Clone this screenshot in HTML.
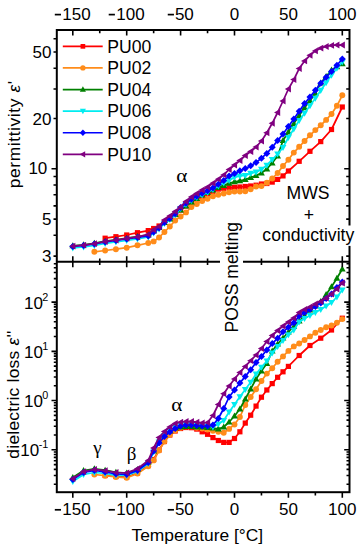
<!DOCTYPE html>
<html><head><meta charset="utf-8"><style>html,body{margin:0;padding:0;background:#fff;overflow:hidden}svg{display:block}</style></head>
<body><svg width="363" height="550" viewBox="0 0 363 550">
<rect width="363" height="550" fill="#fff"/>
<defs><clipPath id="cu"><rect x="56.8" y="30.0" width="292.7" height="231.7"/></clipPath><clipPath id="cl"><rect x="56.8" y="261.7" width="292.7" height="230.5"/></clipPath></defs>
<g clip-path="url(#cu)">
<path d="M105.14 238.20L115.92 236.70L126.70 235.00L137.48 232.70L148.26 230.60L153.65 228.50L159.04 226.00L164.43 222.50L169.82 218.50L175.21 214.50L180.60 210.00L185.99 206.00L191.38 202.00L196.77 199.00L202.16 196.50L207.55 194.00L212.94 191.60L218.33 189.10L223.72 188.30L229.11 187.80L234.50 187.30L239.89 187.00L245.28 186.50L250.67 186.00L256.06 185.20L261.45 184.00L266.84 183.50L272.23 182.10L277.62 179.40L283.01 175.90L288.40 171.00L299.18 161.30L309.96 151.30L320.74 141.60L331.52 129.50L342.30 107.00" fill="none" stroke="#ff0000" stroke-width="1.75" stroke-linejoin="round"/>
<rect x="102.54" y="235.60" width="5.20" height="5.20" fill="#ff0000"/>
<rect x="113.32" y="234.10" width="5.20" height="5.20" fill="#ff0000"/>
<rect x="124.10" y="232.40" width="5.20" height="5.20" fill="#ff0000"/>
<rect x="134.88" y="230.10" width="5.20" height="5.20" fill="#ff0000"/>
<rect x="145.66" y="228.00" width="5.20" height="5.20" fill="#ff0000"/>
<rect x="151.05" y="225.90" width="5.20" height="5.20" fill="#ff0000"/>
<rect x="156.44" y="223.40" width="5.20" height="5.20" fill="#ff0000"/>
<rect x="161.83" y="219.90" width="5.20" height="5.20" fill="#ff0000"/>
<rect x="167.22" y="215.90" width="5.20" height="5.20" fill="#ff0000"/>
<rect x="172.61" y="211.90" width="5.20" height="5.20" fill="#ff0000"/>
<rect x="178.00" y="207.40" width="5.20" height="5.20" fill="#ff0000"/>
<rect x="183.39" y="203.40" width="5.20" height="5.20" fill="#ff0000"/>
<rect x="188.78" y="199.40" width="5.20" height="5.20" fill="#ff0000"/>
<rect x="194.17" y="196.40" width="5.20" height="5.20" fill="#ff0000"/>
<rect x="199.56" y="193.90" width="5.20" height="5.20" fill="#ff0000"/>
<rect x="204.95" y="191.40" width="5.20" height="5.20" fill="#ff0000"/>
<rect x="210.34" y="189.00" width="5.20" height="5.20" fill="#ff0000"/>
<rect x="215.73" y="186.50" width="5.20" height="5.20" fill="#ff0000"/>
<rect x="221.12" y="185.70" width="5.20" height="5.20" fill="#ff0000"/>
<rect x="226.51" y="185.20" width="5.20" height="5.20" fill="#ff0000"/>
<rect x="231.90" y="184.70" width="5.20" height="5.20" fill="#ff0000"/>
<rect x="237.29" y="184.40" width="5.20" height="5.20" fill="#ff0000"/>
<rect x="242.68" y="183.90" width="5.20" height="5.20" fill="#ff0000"/>
<rect x="248.07" y="183.40" width="5.20" height="5.20" fill="#ff0000"/>
<rect x="253.46" y="182.60" width="5.20" height="5.20" fill="#ff0000"/>
<rect x="258.85" y="181.40" width="5.20" height="5.20" fill="#ff0000"/>
<rect x="264.24" y="180.90" width="5.20" height="5.20" fill="#ff0000"/>
<rect x="269.63" y="179.50" width="5.20" height="5.20" fill="#ff0000"/>
<rect x="275.02" y="176.80" width="5.20" height="5.20" fill="#ff0000"/>
<rect x="280.41" y="173.30" width="5.20" height="5.20" fill="#ff0000"/>
<rect x="285.80" y="168.40" width="5.20" height="5.20" fill="#ff0000"/>
<rect x="296.58" y="158.70" width="5.20" height="5.20" fill="#ff0000"/>
<rect x="307.36" y="148.70" width="5.20" height="5.20" fill="#ff0000"/>
<rect x="318.14" y="139.00" width="5.20" height="5.20" fill="#ff0000"/>
<rect x="328.92" y="126.90" width="5.20" height="5.20" fill="#ff0000"/>
<rect x="339.70" y="104.40" width="5.20" height="5.20" fill="#ff0000"/>
<path d="M94.36 251.80L105.14 250.50L115.92 249.20L126.70 247.70L137.48 245.30L148.26 243.00L153.65 241.40L159.04 237.50L164.43 232.00L169.82 226.50L175.21 220.50L180.60 216.50L185.99 212.40L191.38 207.00L196.77 204.00L202.16 201.00L207.55 198.80L212.94 196.30L218.33 194.70L223.72 193.50L229.11 192.20L234.50 191.60L239.89 191.50L245.28 191.30L250.67 189.20L256.06 186.50L261.45 186.10L266.84 182.70L272.23 178.50L277.62 173.00L283.01 166.00L288.40 159.80L293.79 152.60L299.18 146.80L304.57 141.00L309.96 135.30L315.35 130.10L320.74 125.30L326.13 119.90L331.52 114.00L336.91 105.80L342.30 95.30" fill="none" stroke="#ff8c1a" stroke-width="1.75" stroke-linejoin="round"/>
<circle cx="94.36" cy="251.80" r="2.95" fill="#ff8c1a"/>
<circle cx="105.14" cy="250.50" r="2.95" fill="#ff8c1a"/>
<circle cx="115.92" cy="249.20" r="2.95" fill="#ff8c1a"/>
<circle cx="126.70" cy="247.70" r="2.95" fill="#ff8c1a"/>
<circle cx="137.48" cy="245.30" r="2.95" fill="#ff8c1a"/>
<circle cx="148.26" cy="243.00" r="2.95" fill="#ff8c1a"/>
<circle cx="153.65" cy="241.40" r="2.95" fill="#ff8c1a"/>
<circle cx="159.04" cy="237.50" r="2.95" fill="#ff8c1a"/>
<circle cx="164.43" cy="232.00" r="2.95" fill="#ff8c1a"/>
<circle cx="169.82" cy="226.50" r="2.95" fill="#ff8c1a"/>
<circle cx="175.21" cy="220.50" r="2.95" fill="#ff8c1a"/>
<circle cx="180.60" cy="216.50" r="2.95" fill="#ff8c1a"/>
<circle cx="185.99" cy="212.40" r="2.95" fill="#ff8c1a"/>
<circle cx="191.38" cy="207.00" r="2.95" fill="#ff8c1a"/>
<circle cx="196.77" cy="204.00" r="2.95" fill="#ff8c1a"/>
<circle cx="202.16" cy="201.00" r="2.95" fill="#ff8c1a"/>
<circle cx="207.55" cy="198.80" r="2.95" fill="#ff8c1a"/>
<circle cx="212.94" cy="196.30" r="2.95" fill="#ff8c1a"/>
<circle cx="218.33" cy="194.70" r="2.95" fill="#ff8c1a"/>
<circle cx="223.72" cy="193.50" r="2.95" fill="#ff8c1a"/>
<circle cx="229.11" cy="192.20" r="2.95" fill="#ff8c1a"/>
<circle cx="234.50" cy="191.60" r="2.95" fill="#ff8c1a"/>
<circle cx="239.89" cy="191.50" r="2.95" fill="#ff8c1a"/>
<circle cx="245.28" cy="191.30" r="2.95" fill="#ff8c1a"/>
<circle cx="250.67" cy="189.20" r="2.95" fill="#ff8c1a"/>
<circle cx="256.06" cy="186.50" r="2.95" fill="#ff8c1a"/>
<circle cx="261.45" cy="186.10" r="2.95" fill="#ff8c1a"/>
<circle cx="266.84" cy="182.70" r="2.95" fill="#ff8c1a"/>
<circle cx="272.23" cy="178.50" r="2.95" fill="#ff8c1a"/>
<circle cx="277.62" cy="173.00" r="2.95" fill="#ff8c1a"/>
<circle cx="283.01" cy="166.00" r="2.95" fill="#ff8c1a"/>
<circle cx="288.40" cy="159.80" r="2.95" fill="#ff8c1a"/>
<circle cx="293.79" cy="152.60" r="2.95" fill="#ff8c1a"/>
<circle cx="299.18" cy="146.80" r="2.95" fill="#ff8c1a"/>
<circle cx="304.57" cy="141.00" r="2.95" fill="#ff8c1a"/>
<circle cx="309.96" cy="135.30" r="2.95" fill="#ff8c1a"/>
<circle cx="315.35" cy="130.10" r="2.95" fill="#ff8c1a"/>
<circle cx="320.74" cy="125.30" r="2.95" fill="#ff8c1a"/>
<circle cx="326.13" cy="119.90" r="2.95" fill="#ff8c1a"/>
<circle cx="331.52" cy="114.00" r="2.95" fill="#ff8c1a"/>
<circle cx="336.91" cy="105.80" r="2.95" fill="#ff8c1a"/>
<circle cx="342.30" cy="95.30" r="2.95" fill="#ff8c1a"/>
<path d="M72.80 245.80L83.58 244.80L94.36 243.30L105.14 241.20L115.92 239.80L126.70 238.20L137.48 236.60L148.26 235.00L153.65 231.00L159.04 227.50L164.43 222.50L169.82 219.00L175.21 214.50L180.60 210.00L185.99 206.00L191.38 202.00L196.77 198.50L202.16 195.00L207.55 192.50L212.94 190.00L218.33 187.50L223.72 185.40L229.11 183.30L234.50 181.80L239.89 180.80L245.28 179.50L250.67 177.50L256.06 175.50L261.45 173.00L266.84 168.90L272.23 163.00L277.62 156.00L283.01 140.50L288.40 131.90L293.79 123.60L299.18 115.40L304.57 107.60L309.96 100.80L315.35 93.20L320.74 83.00L326.13 76.50L331.52 70.00L336.91 66.70L342.30 63.60" fill="none" stroke="#008000" stroke-width="1.75" stroke-linejoin="round"/>
<path d="M72.80 242.23L76.20 248.35L69.40 248.35Z" fill="#008000"/>
<path d="M83.58 241.23L86.98 247.35L80.18 247.35Z" fill="#008000"/>
<path d="M94.36 239.73L97.76 245.85L90.96 245.85Z" fill="#008000"/>
<path d="M105.14 237.63L108.54 243.75L101.74 243.75Z" fill="#008000"/>
<path d="M115.92 236.23L119.32 242.35L112.52 242.35Z" fill="#008000"/>
<path d="M126.70 234.63L130.10 240.75L123.30 240.75Z" fill="#008000"/>
<path d="M137.48 233.03L140.88 239.15L134.08 239.15Z" fill="#008000"/>
<path d="M148.26 231.43L151.66 237.55L144.86 237.55Z" fill="#008000"/>
<path d="M153.65 227.43L157.05 233.55L150.25 233.55Z" fill="#008000"/>
<path d="M159.04 223.93L162.44 230.05L155.64 230.05Z" fill="#008000"/>
<path d="M164.43 218.93L167.83 225.05L161.03 225.05Z" fill="#008000"/>
<path d="M169.82 215.43L173.22 221.55L166.42 221.55Z" fill="#008000"/>
<path d="M175.21 210.93L178.61 217.05L171.81 217.05Z" fill="#008000"/>
<path d="M180.60 206.43L184.00 212.55L177.20 212.55Z" fill="#008000"/>
<path d="M185.99 202.43L189.39 208.55L182.59 208.55Z" fill="#008000"/>
<path d="M191.38 198.43L194.78 204.55L187.98 204.55Z" fill="#008000"/>
<path d="M196.77 194.93L200.17 201.05L193.37 201.05Z" fill="#008000"/>
<path d="M202.16 191.43L205.56 197.55L198.76 197.55Z" fill="#008000"/>
<path d="M207.55 188.93L210.95 195.05L204.15 195.05Z" fill="#008000"/>
<path d="M212.94 186.43L216.34 192.55L209.54 192.55Z" fill="#008000"/>
<path d="M218.33 183.93L221.73 190.05L214.93 190.05Z" fill="#008000"/>
<path d="M223.72 181.83L227.12 187.95L220.32 187.95Z" fill="#008000"/>
<path d="M229.11 179.73L232.51 185.85L225.71 185.85Z" fill="#008000"/>
<path d="M234.50 178.23L237.90 184.35L231.10 184.35Z" fill="#008000"/>
<path d="M239.89 177.23L243.29 183.35L236.49 183.35Z" fill="#008000"/>
<path d="M245.28 175.93L248.68 182.05L241.88 182.05Z" fill="#008000"/>
<path d="M250.67 173.93L254.07 180.05L247.27 180.05Z" fill="#008000"/>
<path d="M256.06 171.93L259.46 178.05L252.66 178.05Z" fill="#008000"/>
<path d="M261.45 169.43L264.85 175.55L258.05 175.55Z" fill="#008000"/>
<path d="M266.84 165.33L270.24 171.45L263.44 171.45Z" fill="#008000"/>
<path d="M272.23 159.43L275.63 165.55L268.83 165.55Z" fill="#008000"/>
<path d="M277.62 152.43L281.02 158.55L274.22 158.55Z" fill="#008000"/>
<path d="M283.01 136.93L286.41 143.05L279.61 143.05Z" fill="#008000"/>
<path d="M288.40 128.33L291.80 134.45L285.00 134.45Z" fill="#008000"/>
<path d="M293.79 120.03L297.19 126.15L290.39 126.15Z" fill="#008000"/>
<path d="M299.18 111.83L302.58 117.95L295.78 117.95Z" fill="#008000"/>
<path d="M304.57 104.03L307.97 110.15L301.17 110.15Z" fill="#008000"/>
<path d="M309.96 97.23L313.36 103.35L306.56 103.35Z" fill="#008000"/>
<path d="M315.35 89.63L318.75 95.75L311.95 95.75Z" fill="#008000"/>
<path d="M320.74 79.43L324.14 85.55L317.34 85.55Z" fill="#008000"/>
<path d="M326.13 72.93L329.53 79.05L322.73 79.05Z" fill="#008000"/>
<path d="M331.52 66.43L334.92 72.55L328.12 72.55Z" fill="#008000"/>
<path d="M336.91 63.13L340.31 69.25L333.51 69.25Z" fill="#008000"/>
<path d="M342.30 60.03L345.70 66.15L338.90 66.15Z" fill="#008000"/>
<path d="M72.80 248.00L83.58 247.00L94.36 245.50L105.14 243.50L115.92 242.00L126.70 240.50L137.48 239.00L148.26 237.00L153.65 233.00L159.04 229.00L164.43 223.50L169.82 219.50L175.21 215.00L180.60 208.50L185.99 204.50L191.38 200.50L196.77 197.50L202.16 195.00L207.55 192.50L212.94 189.50L218.33 186.00L223.72 183.00L229.11 180.40L234.50 177.30L239.89 176.00L245.28 175.50L250.67 173.40L256.06 172.10L261.45 169.40L266.84 165.20L272.23 159.50L277.62 154.00L283.01 147.50L288.40 137.50L293.79 129.00L299.18 120.50L304.57 113.30L309.96 105.80L315.35 98.30L320.74 90.40L326.13 82.70L331.52 75.10L336.91 68.20L342.30 62.00" fill="none" stroke="#00ecf0" stroke-width="1.75" stroke-linejoin="round"/>
<path d="M72.80 251.57L76.20 245.45L69.40 245.45Z" fill="#00ecf0"/>
<path d="M83.58 250.57L86.98 244.45L80.18 244.45Z" fill="#00ecf0"/>
<path d="M94.36 249.07L97.76 242.95L90.96 242.95Z" fill="#00ecf0"/>
<path d="M105.14 247.07L108.54 240.95L101.74 240.95Z" fill="#00ecf0"/>
<path d="M115.92 245.57L119.32 239.45L112.52 239.45Z" fill="#00ecf0"/>
<path d="M126.70 244.07L130.10 237.95L123.30 237.95Z" fill="#00ecf0"/>
<path d="M137.48 242.57L140.88 236.45L134.08 236.45Z" fill="#00ecf0"/>
<path d="M148.26 240.57L151.66 234.45L144.86 234.45Z" fill="#00ecf0"/>
<path d="M153.65 236.57L157.05 230.45L150.25 230.45Z" fill="#00ecf0"/>
<path d="M159.04 232.57L162.44 226.45L155.64 226.45Z" fill="#00ecf0"/>
<path d="M164.43 227.07L167.83 220.95L161.03 220.95Z" fill="#00ecf0"/>
<path d="M169.82 223.07L173.22 216.95L166.42 216.95Z" fill="#00ecf0"/>
<path d="M175.21 218.57L178.61 212.45L171.81 212.45Z" fill="#00ecf0"/>
<path d="M180.60 212.07L184.00 205.95L177.20 205.95Z" fill="#00ecf0"/>
<path d="M185.99 208.07L189.39 201.95L182.59 201.95Z" fill="#00ecf0"/>
<path d="M191.38 204.07L194.78 197.95L187.98 197.95Z" fill="#00ecf0"/>
<path d="M196.77 201.07L200.17 194.95L193.37 194.95Z" fill="#00ecf0"/>
<path d="M202.16 198.57L205.56 192.45L198.76 192.45Z" fill="#00ecf0"/>
<path d="M207.55 196.07L210.95 189.95L204.15 189.95Z" fill="#00ecf0"/>
<path d="M212.94 193.07L216.34 186.95L209.54 186.95Z" fill="#00ecf0"/>
<path d="M218.33 189.57L221.73 183.45L214.93 183.45Z" fill="#00ecf0"/>
<path d="M223.72 186.57L227.12 180.45L220.32 180.45Z" fill="#00ecf0"/>
<path d="M229.11 183.97L232.51 177.85L225.71 177.85Z" fill="#00ecf0"/>
<path d="M234.50 180.87L237.90 174.75L231.10 174.75Z" fill="#00ecf0"/>
<path d="M239.89 179.57L243.29 173.45L236.49 173.45Z" fill="#00ecf0"/>
<path d="M245.28 179.07L248.68 172.95L241.88 172.95Z" fill="#00ecf0"/>
<path d="M250.67 176.97L254.07 170.85L247.27 170.85Z" fill="#00ecf0"/>
<path d="M256.06 175.67L259.46 169.55L252.66 169.55Z" fill="#00ecf0"/>
<path d="M261.45 172.97L264.85 166.85L258.05 166.85Z" fill="#00ecf0"/>
<path d="M266.84 168.77L270.24 162.65L263.44 162.65Z" fill="#00ecf0"/>
<path d="M272.23 163.07L275.63 156.95L268.83 156.95Z" fill="#00ecf0"/>
<path d="M277.62 157.57L281.02 151.45L274.22 151.45Z" fill="#00ecf0"/>
<path d="M283.01 151.07L286.41 144.95L279.61 144.95Z" fill="#00ecf0"/>
<path d="M288.40 141.07L291.80 134.95L285.00 134.95Z" fill="#00ecf0"/>
<path d="M293.79 132.57L297.19 126.45L290.39 126.45Z" fill="#00ecf0"/>
<path d="M299.18 124.07L302.58 117.95L295.78 117.95Z" fill="#00ecf0"/>
<path d="M304.57 116.87L307.97 110.75L301.17 110.75Z" fill="#00ecf0"/>
<path d="M309.96 109.37L313.36 103.25L306.56 103.25Z" fill="#00ecf0"/>
<path d="M315.35 101.87L318.75 95.75L311.95 95.75Z" fill="#00ecf0"/>
<path d="M320.74 93.97L324.14 87.85L317.34 87.85Z" fill="#00ecf0"/>
<path d="M326.13 86.27L329.53 80.15L322.73 80.15Z" fill="#00ecf0"/>
<path d="M331.52 78.67L334.92 72.55L328.12 72.55Z" fill="#00ecf0"/>
<path d="M336.91 71.77L340.31 65.65L333.51 65.65Z" fill="#00ecf0"/>
<path d="M342.30 65.57L345.70 59.45L338.90 59.45Z" fill="#00ecf0"/>
<path d="M72.80 246.50L83.58 245.50L94.36 244.00L105.14 242.00L115.92 240.50L126.70 239.00L137.48 237.50L148.26 236.00L153.65 232.00L159.04 228.00L164.43 222.50L169.82 218.60L175.21 213.70L180.60 207.50L185.99 203.30L191.38 199.30L196.77 196.20L202.16 193.30L207.55 190.70L212.94 187.90L218.33 184.20L223.72 180.40L229.11 176.10L234.50 173.60L239.89 170.80L245.28 168.60L250.67 165.80L256.06 162.40L261.45 158.20L266.84 153.40L272.23 147.20L277.62 140.60L283.01 134.00L288.40 126.60L293.79 118.90L299.18 111.20L304.57 103.50L309.96 97.00L315.35 90.20L320.74 83.30L326.13 77.30L331.52 71.50L336.91 65.20L342.30 59.00" fill="none" stroke="#0000ff" stroke-width="1.75" stroke-linejoin="round"/>
<path d="M72.80 243.00L76.30 246.50L72.80 250.00L69.30 246.50Z" fill="#0000ff"/>
<path d="M83.58 242.00L87.08 245.50L83.58 249.00L80.08 245.50Z" fill="#0000ff"/>
<path d="M94.36 240.50L97.86 244.00L94.36 247.50L90.86 244.00Z" fill="#0000ff"/>
<path d="M105.14 238.50L108.64 242.00L105.14 245.50L101.64 242.00Z" fill="#0000ff"/>
<path d="M115.92 237.00L119.42 240.50L115.92 244.00L112.42 240.50Z" fill="#0000ff"/>
<path d="M126.70 235.50L130.20 239.00L126.70 242.50L123.20 239.00Z" fill="#0000ff"/>
<path d="M137.48 234.00L140.98 237.50L137.48 241.00L133.98 237.50Z" fill="#0000ff"/>
<path d="M148.26 232.50L151.76 236.00L148.26 239.50L144.76 236.00Z" fill="#0000ff"/>
<path d="M153.65 228.50L157.15 232.00L153.65 235.50L150.15 232.00Z" fill="#0000ff"/>
<path d="M159.04 224.50L162.54 228.00L159.04 231.50L155.54 228.00Z" fill="#0000ff"/>
<path d="M164.43 219.00L167.93 222.50L164.43 226.00L160.93 222.50Z" fill="#0000ff"/>
<path d="M169.82 215.10L173.32 218.60L169.82 222.10L166.32 218.60Z" fill="#0000ff"/>
<path d="M175.21 210.20L178.71 213.70L175.21 217.20L171.71 213.70Z" fill="#0000ff"/>
<path d="M180.60 204.00L184.10 207.50L180.60 211.00L177.10 207.50Z" fill="#0000ff"/>
<path d="M185.99 199.80L189.49 203.30L185.99 206.80L182.49 203.30Z" fill="#0000ff"/>
<path d="M191.38 195.80L194.88 199.30L191.38 202.80L187.88 199.30Z" fill="#0000ff"/>
<path d="M196.77 192.70L200.27 196.20L196.77 199.70L193.27 196.20Z" fill="#0000ff"/>
<path d="M202.16 189.80L205.66 193.30L202.16 196.80L198.66 193.30Z" fill="#0000ff"/>
<path d="M207.55 187.20L211.05 190.70L207.55 194.20L204.05 190.70Z" fill="#0000ff"/>
<path d="M212.94 184.40L216.44 187.90L212.94 191.40L209.44 187.90Z" fill="#0000ff"/>
<path d="M218.33 180.70L221.83 184.20L218.33 187.70L214.83 184.20Z" fill="#0000ff"/>
<path d="M223.72 176.90L227.22 180.40L223.72 183.90L220.22 180.40Z" fill="#0000ff"/>
<path d="M229.11 172.60L232.61 176.10L229.11 179.60L225.61 176.10Z" fill="#0000ff"/>
<path d="M234.50 170.10L238.00 173.60L234.50 177.10L231.00 173.60Z" fill="#0000ff"/>
<path d="M239.89 167.30L243.39 170.80L239.89 174.30L236.39 170.80Z" fill="#0000ff"/>
<path d="M245.28 165.10L248.78 168.60L245.28 172.10L241.78 168.60Z" fill="#0000ff"/>
<path d="M250.67 162.30L254.17 165.80L250.67 169.30L247.17 165.80Z" fill="#0000ff"/>
<path d="M256.06 158.90L259.56 162.40L256.06 165.90L252.56 162.40Z" fill="#0000ff"/>
<path d="M261.45 154.70L264.95 158.20L261.45 161.70L257.95 158.20Z" fill="#0000ff"/>
<path d="M266.84 149.90L270.34 153.40L266.84 156.90L263.34 153.40Z" fill="#0000ff"/>
<path d="M272.23 143.70L275.73 147.20L272.23 150.70L268.73 147.20Z" fill="#0000ff"/>
<path d="M277.62 137.10L281.12 140.60L277.62 144.10L274.12 140.60Z" fill="#0000ff"/>
<path d="M283.01 130.50L286.51 134.00L283.01 137.50L279.51 134.00Z" fill="#0000ff"/>
<path d="M288.40 123.10L291.90 126.60L288.40 130.10L284.90 126.60Z" fill="#0000ff"/>
<path d="M293.79 115.40L297.29 118.90L293.79 122.40L290.29 118.90Z" fill="#0000ff"/>
<path d="M299.18 107.70L302.68 111.20L299.18 114.70L295.68 111.20Z" fill="#0000ff"/>
<path d="M304.57 100.00L308.07 103.50L304.57 107.00L301.07 103.50Z" fill="#0000ff"/>
<path d="M309.96 93.50L313.46 97.00L309.96 100.50L306.46 97.00Z" fill="#0000ff"/>
<path d="M315.35 86.70L318.85 90.20L315.35 93.70L311.85 90.20Z" fill="#0000ff"/>
<path d="M320.74 79.80L324.24 83.30L320.74 86.80L317.24 83.30Z" fill="#0000ff"/>
<path d="M326.13 73.80L329.63 77.30L326.13 80.80L322.63 77.30Z" fill="#0000ff"/>
<path d="M331.52 68.00L335.02 71.50L331.52 75.00L328.02 71.50Z" fill="#0000ff"/>
<path d="M336.91 61.70L340.41 65.20L336.91 68.70L333.41 65.20Z" fill="#0000ff"/>
<path d="M342.30 55.50L345.80 59.00L342.30 62.50L338.80 59.00Z" fill="#0000ff"/>
<path d="M72.80 246.20L83.58 245.20L94.36 243.70L105.14 241.50L115.92 240.00L126.70 238.40L137.48 236.80L148.26 234.30L153.65 229.80L159.04 226.50L164.43 220.00L169.82 216.00L175.21 211.50L180.60 207.00L185.99 201.50L191.38 197.00L196.77 193.50L202.16 190.00L207.55 187.00L212.94 183.20L218.33 179.20L223.72 174.90L229.11 169.50L234.50 165.00L239.89 160.50L245.28 155.50L250.67 151.50L256.06 147.00L261.45 141.00L266.84 132.80L272.23 123.30L277.62 112.50L283.01 101.00L288.40 89.00L293.79 79.60L299.18 68.60L304.57 60.90L309.96 55.30L315.35 50.90L320.74 48.10L326.13 46.50L331.52 45.40L336.91 45.00L342.30 45.00" fill="none" stroke="#800080" stroke-width="1.75" stroke-linejoin="round"/>
<path d="M69.23 246.20L75.35 242.80L75.35 249.60Z" fill="#800080"/>
<path d="M80.01 245.20L86.13 241.80L86.13 248.60Z" fill="#800080"/>
<path d="M90.79 243.70L96.91 240.30L96.91 247.10Z" fill="#800080"/>
<path d="M101.57 241.50L107.69 238.10L107.69 244.90Z" fill="#800080"/>
<path d="M112.35 240.00L118.47 236.60L118.47 243.40Z" fill="#800080"/>
<path d="M123.13 238.40L129.25 235.00L129.25 241.80Z" fill="#800080"/>
<path d="M133.91 236.80L140.03 233.40L140.03 240.20Z" fill="#800080"/>
<path d="M144.69 234.30L150.81 230.90L150.81 237.70Z" fill="#800080"/>
<path d="M150.08 229.80L156.20 226.40L156.20 233.20Z" fill="#800080"/>
<path d="M155.47 226.50L161.59 223.10L161.59 229.90Z" fill="#800080"/>
<path d="M160.86 220.00L166.98 216.60L166.98 223.40Z" fill="#800080"/>
<path d="M166.25 216.00L172.37 212.60L172.37 219.40Z" fill="#800080"/>
<path d="M171.64 211.50L177.76 208.10L177.76 214.90Z" fill="#800080"/>
<path d="M177.03 207.00L183.15 203.60L183.15 210.40Z" fill="#800080"/>
<path d="M182.42 201.50L188.54 198.10L188.54 204.90Z" fill="#800080"/>
<path d="M187.81 197.00L193.93 193.60L193.93 200.40Z" fill="#800080"/>
<path d="M193.20 193.50L199.32 190.10L199.32 196.90Z" fill="#800080"/>
<path d="M198.59 190.00L204.71 186.60L204.71 193.40Z" fill="#800080"/>
<path d="M203.98 187.00L210.10 183.60L210.10 190.40Z" fill="#800080"/>
<path d="M209.37 183.20L215.49 179.80L215.49 186.60Z" fill="#800080"/>
<path d="M214.76 179.20L220.88 175.80L220.88 182.60Z" fill="#800080"/>
<path d="M220.15 174.90L226.27 171.50L226.27 178.30Z" fill="#800080"/>
<path d="M225.54 169.50L231.66 166.10L231.66 172.90Z" fill="#800080"/>
<path d="M230.93 165.00L237.05 161.60L237.05 168.40Z" fill="#800080"/>
<path d="M236.32 160.50L242.44 157.10L242.44 163.90Z" fill="#800080"/>
<path d="M241.71 155.50L247.83 152.10L247.83 158.90Z" fill="#800080"/>
<path d="M247.10 151.50L253.22 148.10L253.22 154.90Z" fill="#800080"/>
<path d="M252.49 147.00L258.61 143.60L258.61 150.40Z" fill="#800080"/>
<path d="M257.88 141.00L264.00 137.60L264.00 144.40Z" fill="#800080"/>
<path d="M263.27 132.80L269.39 129.40L269.39 136.20Z" fill="#800080"/>
<path d="M268.66 123.30L274.78 119.90L274.78 126.70Z" fill="#800080"/>
<path d="M274.05 112.50L280.17 109.10L280.17 115.90Z" fill="#800080"/>
<path d="M279.44 101.00L285.56 97.60L285.56 104.40Z" fill="#800080"/>
<path d="M284.83 89.00L290.95 85.60L290.95 92.40Z" fill="#800080"/>
<path d="M290.22 79.60L296.34 76.20L296.34 83.00Z" fill="#800080"/>
<path d="M295.61 68.60L301.73 65.20L301.73 72.00Z" fill="#800080"/>
<path d="M301.00 60.90L307.12 57.50L307.12 64.30Z" fill="#800080"/>
<path d="M306.39 55.30L312.51 51.90L312.51 58.70Z" fill="#800080"/>
<path d="M311.78 50.90L317.90 47.50L317.90 54.30Z" fill="#800080"/>
<path d="M317.17 48.10L323.29 44.70L323.29 51.50Z" fill="#800080"/>
<path d="M322.56 46.50L328.68 43.10L328.68 49.90Z" fill="#800080"/>
<path d="M327.95 45.40L334.07 42.00L334.07 48.80Z" fill="#800080"/>
<path d="M333.34 45.00L339.46 41.60L339.46 48.40Z" fill="#800080"/>
<path d="M338.73 45.00L344.85 41.60L344.85 48.40Z" fill="#800080"/>
</g><g clip-path="url(#cl)">
<path d="M105.14 475.50L115.92 476.50L126.70 477.00L137.48 473.00L148.26 465.50L153.65 459.50L159.04 450.00L164.43 441.50L169.82 435.00L175.21 431.00L180.60 428.50L185.99 427.50L191.38 427.70L196.77 429.10L202.16 431.80L207.55 434.30L212.94 437.60L218.33 440.50L223.72 442.40L229.11 442.40L234.50 438.50L239.89 431.80L245.28 423.10L250.67 415.20L256.06 406.10L261.45 397.20L266.84 390.00L272.23 383.60L277.62 377.30L283.01 371.80L288.40 366.40L299.18 355.50L309.96 345.50L320.74 338.20L331.52 330.00L342.30 318.20" fill="none" stroke="#ff0000" stroke-width="1.75" stroke-linejoin="round"/>
<rect x="102.54" y="472.90" width="5.20" height="5.20" fill="#ff0000"/>
<rect x="113.32" y="473.90" width="5.20" height="5.20" fill="#ff0000"/>
<rect x="124.10" y="474.40" width="5.20" height="5.20" fill="#ff0000"/>
<rect x="134.88" y="470.40" width="5.20" height="5.20" fill="#ff0000"/>
<rect x="145.66" y="462.90" width="5.20" height="5.20" fill="#ff0000"/>
<rect x="151.05" y="456.90" width="5.20" height="5.20" fill="#ff0000"/>
<rect x="156.44" y="447.40" width="5.20" height="5.20" fill="#ff0000"/>
<rect x="161.83" y="438.90" width="5.20" height="5.20" fill="#ff0000"/>
<rect x="167.22" y="432.40" width="5.20" height="5.20" fill="#ff0000"/>
<rect x="172.61" y="428.40" width="5.20" height="5.20" fill="#ff0000"/>
<rect x="178.00" y="425.90" width="5.20" height="5.20" fill="#ff0000"/>
<rect x="183.39" y="424.90" width="5.20" height="5.20" fill="#ff0000"/>
<rect x="188.78" y="425.10" width="5.20" height="5.20" fill="#ff0000"/>
<rect x="194.17" y="426.50" width="5.20" height="5.20" fill="#ff0000"/>
<rect x="199.56" y="429.20" width="5.20" height="5.20" fill="#ff0000"/>
<rect x="204.95" y="431.70" width="5.20" height="5.20" fill="#ff0000"/>
<rect x="210.34" y="435.00" width="5.20" height="5.20" fill="#ff0000"/>
<rect x="215.73" y="437.90" width="5.20" height="5.20" fill="#ff0000"/>
<rect x="221.12" y="439.80" width="5.20" height="5.20" fill="#ff0000"/>
<rect x="226.51" y="439.80" width="5.20" height="5.20" fill="#ff0000"/>
<rect x="231.90" y="435.90" width="5.20" height="5.20" fill="#ff0000"/>
<rect x="237.29" y="429.20" width="5.20" height="5.20" fill="#ff0000"/>
<rect x="242.68" y="420.50" width="5.20" height="5.20" fill="#ff0000"/>
<rect x="248.07" y="412.60" width="5.20" height="5.20" fill="#ff0000"/>
<rect x="253.46" y="403.50" width="5.20" height="5.20" fill="#ff0000"/>
<rect x="258.85" y="394.60" width="5.20" height="5.20" fill="#ff0000"/>
<rect x="264.24" y="387.40" width="5.20" height="5.20" fill="#ff0000"/>
<rect x="269.63" y="381.00" width="5.20" height="5.20" fill="#ff0000"/>
<rect x="275.02" y="374.70" width="5.20" height="5.20" fill="#ff0000"/>
<rect x="280.41" y="369.20" width="5.20" height="5.20" fill="#ff0000"/>
<rect x="285.80" y="363.80" width="5.20" height="5.20" fill="#ff0000"/>
<rect x="296.58" y="352.90" width="5.20" height="5.20" fill="#ff0000"/>
<rect x="307.36" y="342.90" width="5.20" height="5.20" fill="#ff0000"/>
<rect x="318.14" y="335.60" width="5.20" height="5.20" fill="#ff0000"/>
<rect x="328.92" y="327.40" width="5.20" height="5.20" fill="#ff0000"/>
<rect x="339.70" y="315.60" width="5.20" height="5.20" fill="#ff0000"/>
<path d="M94.36 474.50L105.14 475.70L115.92 477.00L126.70 477.80L137.48 473.60L148.26 466.20L153.65 460.40L159.04 450.50L164.43 441.50L169.82 434.70L175.21 430.50L180.60 427.70L185.99 426.30L191.38 426.30L196.77 427.70L202.16 428.50L207.55 429.50L212.94 430.80L218.33 431.80L223.72 432.80L229.11 428.90L234.50 424.50L239.89 417.00L245.28 405.00L250.67 397.00L256.06 389.30L261.45 381.00L266.84 373.60L272.23 368.20L277.62 361.80L283.01 356.40L288.40 350.90L293.79 346.40L299.18 343.50L304.57 340.00L309.96 336.40L315.35 332.70L320.74 330.00L326.13 327.30L331.52 325.50L336.91 322.70L342.30 319.10" fill="none" stroke="#ff8c1a" stroke-width="1.75" stroke-linejoin="round"/>
<circle cx="94.36" cy="474.50" r="2.95" fill="#ff8c1a"/>
<circle cx="105.14" cy="475.70" r="2.95" fill="#ff8c1a"/>
<circle cx="115.92" cy="477.00" r="2.95" fill="#ff8c1a"/>
<circle cx="126.70" cy="477.80" r="2.95" fill="#ff8c1a"/>
<circle cx="137.48" cy="473.60" r="2.95" fill="#ff8c1a"/>
<circle cx="148.26" cy="466.20" r="2.95" fill="#ff8c1a"/>
<circle cx="153.65" cy="460.40" r="2.95" fill="#ff8c1a"/>
<circle cx="159.04" cy="450.50" r="2.95" fill="#ff8c1a"/>
<circle cx="164.43" cy="441.50" r="2.95" fill="#ff8c1a"/>
<circle cx="169.82" cy="434.70" r="2.95" fill="#ff8c1a"/>
<circle cx="175.21" cy="430.50" r="2.95" fill="#ff8c1a"/>
<circle cx="180.60" cy="427.70" r="2.95" fill="#ff8c1a"/>
<circle cx="185.99" cy="426.30" r="2.95" fill="#ff8c1a"/>
<circle cx="191.38" cy="426.30" r="2.95" fill="#ff8c1a"/>
<circle cx="196.77" cy="427.70" r="2.95" fill="#ff8c1a"/>
<circle cx="202.16" cy="428.50" r="2.95" fill="#ff8c1a"/>
<circle cx="207.55" cy="429.50" r="2.95" fill="#ff8c1a"/>
<circle cx="212.94" cy="430.80" r="2.95" fill="#ff8c1a"/>
<circle cx="218.33" cy="431.80" r="2.95" fill="#ff8c1a"/>
<circle cx="223.72" cy="432.80" r="2.95" fill="#ff8c1a"/>
<circle cx="229.11" cy="428.90" r="2.95" fill="#ff8c1a"/>
<circle cx="234.50" cy="424.50" r="2.95" fill="#ff8c1a"/>
<circle cx="239.89" cy="417.00" r="2.95" fill="#ff8c1a"/>
<circle cx="245.28" cy="405.00" r="2.95" fill="#ff8c1a"/>
<circle cx="250.67" cy="397.00" r="2.95" fill="#ff8c1a"/>
<circle cx="256.06" cy="389.30" r="2.95" fill="#ff8c1a"/>
<circle cx="261.45" cy="381.00" r="2.95" fill="#ff8c1a"/>
<circle cx="266.84" cy="373.60" r="2.95" fill="#ff8c1a"/>
<circle cx="272.23" cy="368.20" r="2.95" fill="#ff8c1a"/>
<circle cx="277.62" cy="361.80" r="2.95" fill="#ff8c1a"/>
<circle cx="283.01" cy="356.40" r="2.95" fill="#ff8c1a"/>
<circle cx="288.40" cy="350.90" r="2.95" fill="#ff8c1a"/>
<circle cx="293.79" cy="346.40" r="2.95" fill="#ff8c1a"/>
<circle cx="299.18" cy="343.50" r="2.95" fill="#ff8c1a"/>
<circle cx="304.57" cy="340.00" r="2.95" fill="#ff8c1a"/>
<circle cx="309.96" cy="336.40" r="2.95" fill="#ff8c1a"/>
<circle cx="315.35" cy="332.70" r="2.95" fill="#ff8c1a"/>
<circle cx="320.74" cy="330.00" r="2.95" fill="#ff8c1a"/>
<circle cx="326.13" cy="327.30" r="2.95" fill="#ff8c1a"/>
<circle cx="331.52" cy="325.50" r="2.95" fill="#ff8c1a"/>
<circle cx="336.91" cy="322.70" r="2.95" fill="#ff8c1a"/>
<circle cx="342.30" cy="319.10" r="2.95" fill="#ff8c1a"/>
<path d="M72.80 477.50L83.58 470.50L94.36 468.80L105.14 470.20L115.92 472.30L126.70 473.00L137.48 469.50L148.26 462.00L153.65 451.00L159.04 441.00L164.43 435.00L169.82 431.00L175.21 428.00L180.60 427.00L185.99 426.50L191.38 426.50L196.77 427.00L202.16 427.00L207.55 427.50L212.94 428.00L218.33 428.90L223.72 427.00L229.11 422.00L234.50 416.00L239.89 409.00L245.28 399.00L250.67 389.00L256.06 379.00L261.45 371.00L266.84 363.50L272.23 351.00L277.62 344.00L283.01 338.00L288.40 332.00L293.79 326.50L299.18 321.00L304.57 315.50L309.96 310.00L315.35 306.00L320.74 301.50L326.13 294.50L331.52 286.80L336.91 278.20L342.30 269.00" fill="none" stroke="#008000" stroke-width="1.75" stroke-linejoin="round"/>
<path d="M72.80 473.93L76.20 480.05L69.40 480.05Z" fill="#008000"/>
<path d="M83.58 466.93L86.98 473.05L80.18 473.05Z" fill="#008000"/>
<path d="M94.36 465.23L97.76 471.35L90.96 471.35Z" fill="#008000"/>
<path d="M105.14 466.63L108.54 472.75L101.74 472.75Z" fill="#008000"/>
<path d="M115.92 468.73L119.32 474.85L112.52 474.85Z" fill="#008000"/>
<path d="M126.70 469.43L130.10 475.55L123.30 475.55Z" fill="#008000"/>
<path d="M137.48 465.93L140.88 472.05L134.08 472.05Z" fill="#008000"/>
<path d="M148.26 458.43L151.66 464.55L144.86 464.55Z" fill="#008000"/>
<path d="M153.65 447.43L157.05 453.55L150.25 453.55Z" fill="#008000"/>
<path d="M159.04 437.43L162.44 443.55L155.64 443.55Z" fill="#008000"/>
<path d="M164.43 431.43L167.83 437.55L161.03 437.55Z" fill="#008000"/>
<path d="M169.82 427.43L173.22 433.55L166.42 433.55Z" fill="#008000"/>
<path d="M175.21 424.43L178.61 430.55L171.81 430.55Z" fill="#008000"/>
<path d="M180.60 423.43L184.00 429.55L177.20 429.55Z" fill="#008000"/>
<path d="M185.99 422.93L189.39 429.05L182.59 429.05Z" fill="#008000"/>
<path d="M191.38 422.93L194.78 429.05L187.98 429.05Z" fill="#008000"/>
<path d="M196.77 423.43L200.17 429.55L193.37 429.55Z" fill="#008000"/>
<path d="M202.16 423.43L205.56 429.55L198.76 429.55Z" fill="#008000"/>
<path d="M207.55 423.93L210.95 430.05L204.15 430.05Z" fill="#008000"/>
<path d="M212.94 424.43L216.34 430.55L209.54 430.55Z" fill="#008000"/>
<path d="M218.33 425.33L221.73 431.45L214.93 431.45Z" fill="#008000"/>
<path d="M223.72 423.43L227.12 429.55L220.32 429.55Z" fill="#008000"/>
<path d="M229.11 418.43L232.51 424.55L225.71 424.55Z" fill="#008000"/>
<path d="M234.50 412.43L237.90 418.55L231.10 418.55Z" fill="#008000"/>
<path d="M239.89 405.43L243.29 411.55L236.49 411.55Z" fill="#008000"/>
<path d="M245.28 395.43L248.68 401.55L241.88 401.55Z" fill="#008000"/>
<path d="M250.67 385.43L254.07 391.55L247.27 391.55Z" fill="#008000"/>
<path d="M256.06 375.43L259.46 381.55L252.66 381.55Z" fill="#008000"/>
<path d="M261.45 367.43L264.85 373.55L258.05 373.55Z" fill="#008000"/>
<path d="M266.84 359.93L270.24 366.05L263.44 366.05Z" fill="#008000"/>
<path d="M272.23 347.43L275.63 353.55L268.83 353.55Z" fill="#008000"/>
<path d="M277.62 340.43L281.02 346.55L274.22 346.55Z" fill="#008000"/>
<path d="M283.01 334.43L286.41 340.55L279.61 340.55Z" fill="#008000"/>
<path d="M288.40 328.43L291.80 334.55L285.00 334.55Z" fill="#008000"/>
<path d="M293.79 322.93L297.19 329.05L290.39 329.05Z" fill="#008000"/>
<path d="M299.18 317.43L302.58 323.55L295.78 323.55Z" fill="#008000"/>
<path d="M304.57 311.93L307.97 318.05L301.17 318.05Z" fill="#008000"/>
<path d="M309.96 306.43L313.36 312.55L306.56 312.55Z" fill="#008000"/>
<path d="M315.35 302.43L318.75 308.55L311.95 308.55Z" fill="#008000"/>
<path d="M320.74 297.93L324.14 304.05L317.34 304.05Z" fill="#008000"/>
<path d="M326.13 290.93L329.53 297.05L322.73 297.05Z" fill="#008000"/>
<path d="M331.52 283.23L334.92 289.35L328.12 289.35Z" fill="#008000"/>
<path d="M336.91 274.63L340.31 280.75L333.51 280.75Z" fill="#008000"/>
<path d="M342.30 265.43L345.70 271.55L338.90 271.55Z" fill="#008000"/>
<path d="M72.80 481.50L83.58 474.50L94.36 472.50L105.14 473.50L115.92 475.30L126.70 475.50L137.48 471.50L148.26 463.50L153.65 452.00L159.04 442.00L164.43 435.50L169.82 431.00L175.21 427.50L180.60 425.00L185.99 424.00L191.38 424.00L196.77 424.50L202.16 425.00L207.55 426.00L212.94 427.00L218.33 424.00L223.72 420.50L229.11 412.00L234.50 404.50L239.89 396.70L245.28 389.50L250.67 382.20L256.06 374.00L261.45 367.30L266.84 361.00L272.23 353.00L277.62 346.50L283.01 340.50L288.40 334.80L293.79 330.00L299.18 322.00L304.57 318.50L309.96 315.50L315.35 312.50L320.74 309.50L326.13 306.00L331.52 302.50L336.91 297.00L342.30 290.00" fill="none" stroke="#00ecf0" stroke-width="1.75" stroke-linejoin="round"/>
<path d="M72.80 485.07L76.20 478.95L69.40 478.95Z" fill="#00ecf0"/>
<path d="M83.58 478.07L86.98 471.95L80.18 471.95Z" fill="#00ecf0"/>
<path d="M94.36 476.07L97.76 469.95L90.96 469.95Z" fill="#00ecf0"/>
<path d="M105.14 477.07L108.54 470.95L101.74 470.95Z" fill="#00ecf0"/>
<path d="M115.92 478.87L119.32 472.75L112.52 472.75Z" fill="#00ecf0"/>
<path d="M126.70 479.07L130.10 472.95L123.30 472.95Z" fill="#00ecf0"/>
<path d="M137.48 475.07L140.88 468.95L134.08 468.95Z" fill="#00ecf0"/>
<path d="M148.26 467.07L151.66 460.95L144.86 460.95Z" fill="#00ecf0"/>
<path d="M153.65 455.57L157.05 449.45L150.25 449.45Z" fill="#00ecf0"/>
<path d="M159.04 445.57L162.44 439.45L155.64 439.45Z" fill="#00ecf0"/>
<path d="M164.43 439.07L167.83 432.95L161.03 432.95Z" fill="#00ecf0"/>
<path d="M169.82 434.57L173.22 428.45L166.42 428.45Z" fill="#00ecf0"/>
<path d="M175.21 431.07L178.61 424.95L171.81 424.95Z" fill="#00ecf0"/>
<path d="M180.60 428.57L184.00 422.45L177.20 422.45Z" fill="#00ecf0"/>
<path d="M185.99 427.57L189.39 421.45L182.59 421.45Z" fill="#00ecf0"/>
<path d="M191.38 427.57L194.78 421.45L187.98 421.45Z" fill="#00ecf0"/>
<path d="M196.77 428.07L200.17 421.95L193.37 421.95Z" fill="#00ecf0"/>
<path d="M202.16 428.57L205.56 422.45L198.76 422.45Z" fill="#00ecf0"/>
<path d="M207.55 429.57L210.95 423.45L204.15 423.45Z" fill="#00ecf0"/>
<path d="M212.94 430.57L216.34 424.45L209.54 424.45Z" fill="#00ecf0"/>
<path d="M218.33 427.57L221.73 421.45L214.93 421.45Z" fill="#00ecf0"/>
<path d="M223.72 424.07L227.12 417.95L220.32 417.95Z" fill="#00ecf0"/>
<path d="M229.11 415.57L232.51 409.45L225.71 409.45Z" fill="#00ecf0"/>
<path d="M234.50 408.07L237.90 401.95L231.10 401.95Z" fill="#00ecf0"/>
<path d="M239.89 400.27L243.29 394.15L236.49 394.15Z" fill="#00ecf0"/>
<path d="M245.28 393.07L248.68 386.95L241.88 386.95Z" fill="#00ecf0"/>
<path d="M250.67 385.77L254.07 379.65L247.27 379.65Z" fill="#00ecf0"/>
<path d="M256.06 377.57L259.46 371.45L252.66 371.45Z" fill="#00ecf0"/>
<path d="M261.45 370.87L264.85 364.75L258.05 364.75Z" fill="#00ecf0"/>
<path d="M266.84 364.57L270.24 358.45L263.44 358.45Z" fill="#00ecf0"/>
<path d="M272.23 356.57L275.63 350.45L268.83 350.45Z" fill="#00ecf0"/>
<path d="M277.62 350.07L281.02 343.95L274.22 343.95Z" fill="#00ecf0"/>
<path d="M283.01 344.07L286.41 337.95L279.61 337.95Z" fill="#00ecf0"/>
<path d="M288.40 338.37L291.80 332.25L285.00 332.25Z" fill="#00ecf0"/>
<path d="M293.79 333.57L297.19 327.45L290.39 327.45Z" fill="#00ecf0"/>
<path d="M299.18 325.57L302.58 319.45L295.78 319.45Z" fill="#00ecf0"/>
<path d="M304.57 322.07L307.97 315.95L301.17 315.95Z" fill="#00ecf0"/>
<path d="M309.96 319.07L313.36 312.95L306.56 312.95Z" fill="#00ecf0"/>
<path d="M315.35 316.07L318.75 309.95L311.95 309.95Z" fill="#00ecf0"/>
<path d="M320.74 313.07L324.14 306.95L317.34 306.95Z" fill="#00ecf0"/>
<path d="M326.13 309.57L329.53 303.45L322.73 303.45Z" fill="#00ecf0"/>
<path d="M331.52 306.07L334.92 299.95L328.12 299.95Z" fill="#00ecf0"/>
<path d="M336.91 300.57L340.31 294.45L333.51 294.45Z" fill="#00ecf0"/>
<path d="M342.30 293.57L345.70 287.45L338.90 287.45Z" fill="#00ecf0"/>
<path d="M72.80 479.50L83.58 472.50L94.36 470.50L105.14 472.00L115.92 474.00L126.70 474.50L137.48 470.50L148.26 462.50L153.65 451.00L159.04 443.00L164.43 436.50L169.82 432.00L175.21 428.50L180.60 426.00L185.99 425.00L191.38 425.00L196.77 425.50L202.16 426.00L207.55 426.00L212.94 425.00L218.33 418.50L223.72 408.50L229.11 397.00L234.50 390.00L239.89 383.00L245.28 376.40L250.67 369.80L256.06 362.50L261.45 356.40L266.84 350.00L272.23 343.60L277.62 338.20L283.01 331.80L288.40 327.30L293.79 322.70L299.18 316.00L304.57 312.50L309.96 309.50L315.35 306.50L320.74 303.00L326.13 298.50L331.52 294.00L336.91 287.50L342.30 282.00" fill="none" stroke="#0000ff" stroke-width="1.75" stroke-linejoin="round"/>
<path d="M72.80 476.00L76.30 479.50L72.80 483.00L69.30 479.50Z" fill="#0000ff"/>
<path d="M83.58 469.00L87.08 472.50L83.58 476.00L80.08 472.50Z" fill="#0000ff"/>
<path d="M94.36 467.00L97.86 470.50L94.36 474.00L90.86 470.50Z" fill="#0000ff"/>
<path d="M105.14 468.50L108.64 472.00L105.14 475.50L101.64 472.00Z" fill="#0000ff"/>
<path d="M115.92 470.50L119.42 474.00L115.92 477.50L112.42 474.00Z" fill="#0000ff"/>
<path d="M126.70 471.00L130.20 474.50L126.70 478.00L123.20 474.50Z" fill="#0000ff"/>
<path d="M137.48 467.00L140.98 470.50L137.48 474.00L133.98 470.50Z" fill="#0000ff"/>
<path d="M148.26 459.00L151.76 462.50L148.26 466.00L144.76 462.50Z" fill="#0000ff"/>
<path d="M153.65 447.50L157.15 451.00L153.65 454.50L150.15 451.00Z" fill="#0000ff"/>
<path d="M159.04 439.50L162.54 443.00L159.04 446.50L155.54 443.00Z" fill="#0000ff"/>
<path d="M164.43 433.00L167.93 436.50L164.43 440.00L160.93 436.50Z" fill="#0000ff"/>
<path d="M169.82 428.50L173.32 432.00L169.82 435.50L166.32 432.00Z" fill="#0000ff"/>
<path d="M175.21 425.00L178.71 428.50L175.21 432.00L171.71 428.50Z" fill="#0000ff"/>
<path d="M180.60 422.50L184.10 426.00L180.60 429.50L177.10 426.00Z" fill="#0000ff"/>
<path d="M185.99 421.50L189.49 425.00L185.99 428.50L182.49 425.00Z" fill="#0000ff"/>
<path d="M191.38 421.50L194.88 425.00L191.38 428.50L187.88 425.00Z" fill="#0000ff"/>
<path d="M196.77 422.00L200.27 425.50L196.77 429.00L193.27 425.50Z" fill="#0000ff"/>
<path d="M202.16 422.50L205.66 426.00L202.16 429.50L198.66 426.00Z" fill="#0000ff"/>
<path d="M207.55 422.50L211.05 426.00L207.55 429.50L204.05 426.00Z" fill="#0000ff"/>
<path d="M212.94 421.50L216.44 425.00L212.94 428.50L209.44 425.00Z" fill="#0000ff"/>
<path d="M218.33 415.00L221.83 418.50L218.33 422.00L214.83 418.50Z" fill="#0000ff"/>
<path d="M223.72 405.00L227.22 408.50L223.72 412.00L220.22 408.50Z" fill="#0000ff"/>
<path d="M229.11 393.50L232.61 397.00L229.11 400.50L225.61 397.00Z" fill="#0000ff"/>
<path d="M234.50 386.50L238.00 390.00L234.50 393.50L231.00 390.00Z" fill="#0000ff"/>
<path d="M239.89 379.50L243.39 383.00L239.89 386.50L236.39 383.00Z" fill="#0000ff"/>
<path d="M245.28 372.90L248.78 376.40L245.28 379.90L241.78 376.40Z" fill="#0000ff"/>
<path d="M250.67 366.30L254.17 369.80L250.67 373.30L247.17 369.80Z" fill="#0000ff"/>
<path d="M256.06 359.00L259.56 362.50L256.06 366.00L252.56 362.50Z" fill="#0000ff"/>
<path d="M261.45 352.90L264.95 356.40L261.45 359.90L257.95 356.40Z" fill="#0000ff"/>
<path d="M266.84 346.50L270.34 350.00L266.84 353.50L263.34 350.00Z" fill="#0000ff"/>
<path d="M272.23 340.10L275.73 343.60L272.23 347.10L268.73 343.60Z" fill="#0000ff"/>
<path d="M277.62 334.70L281.12 338.20L277.62 341.70L274.12 338.20Z" fill="#0000ff"/>
<path d="M283.01 328.30L286.51 331.80L283.01 335.30L279.51 331.80Z" fill="#0000ff"/>
<path d="M288.40 323.80L291.90 327.30L288.40 330.80L284.90 327.30Z" fill="#0000ff"/>
<path d="M293.79 319.20L297.29 322.70L293.79 326.20L290.29 322.70Z" fill="#0000ff"/>
<path d="M299.18 312.50L302.68 316.00L299.18 319.50L295.68 316.00Z" fill="#0000ff"/>
<path d="M304.57 309.00L308.07 312.50L304.57 316.00L301.07 312.50Z" fill="#0000ff"/>
<path d="M309.96 306.00L313.46 309.50L309.96 313.00L306.46 309.50Z" fill="#0000ff"/>
<path d="M315.35 303.00L318.85 306.50L315.35 310.00L311.85 306.50Z" fill="#0000ff"/>
<path d="M320.74 299.50L324.24 303.00L320.74 306.50L317.24 303.00Z" fill="#0000ff"/>
<path d="M326.13 295.00L329.63 298.50L326.13 302.00L322.63 298.50Z" fill="#0000ff"/>
<path d="M331.52 290.50L335.02 294.00L331.52 297.50L328.02 294.00Z" fill="#0000ff"/>
<path d="M336.91 284.00L340.41 287.50L336.91 291.00L333.41 287.50Z" fill="#0000ff"/>
<path d="M342.30 278.50L345.80 282.00L342.30 285.50L338.80 282.00Z" fill="#0000ff"/>
<path d="M72.80 478.70L83.58 471.60L94.36 469.40L105.14 470.70L115.92 472.50L126.70 472.80L137.48 468.70L148.26 460.40L153.65 448.00L159.04 437.50L164.43 431.50L169.82 427.00L175.21 423.50L180.60 422.20L185.99 421.50L191.38 421.50L196.77 422.20L202.16 422.90L207.55 422.50L212.94 415.50L218.33 404.50L223.72 393.70L229.11 386.00L234.50 379.00L239.89 372.50L245.28 366.40L250.67 360.70L256.06 355.00L261.45 348.50L266.84 341.50L272.23 335.50L277.62 330.50L283.01 326.00L288.40 322.00L293.79 318.00L299.18 312.50L304.57 309.50L309.96 307.00L315.35 304.00L320.74 301.50L326.13 298.00L331.52 294.00L336.91 289.00L342.30 283.00" fill="none" stroke="#800080" stroke-width="1.75" stroke-linejoin="round"/>
<path d="M69.23 478.70L75.35 475.30L75.35 482.10Z" fill="#800080"/>
<path d="M80.01 471.60L86.13 468.20L86.13 475.00Z" fill="#800080"/>
<path d="M90.79 469.40L96.91 466.00L96.91 472.80Z" fill="#800080"/>
<path d="M101.57 470.70L107.69 467.30L107.69 474.10Z" fill="#800080"/>
<path d="M112.35 472.50L118.47 469.10L118.47 475.90Z" fill="#800080"/>
<path d="M123.13 472.80L129.25 469.40L129.25 476.20Z" fill="#800080"/>
<path d="M133.91 468.70L140.03 465.30L140.03 472.10Z" fill="#800080"/>
<path d="M144.69 460.40L150.81 457.00L150.81 463.80Z" fill="#800080"/>
<path d="M150.08 448.00L156.20 444.60L156.20 451.40Z" fill="#800080"/>
<path d="M155.47 437.50L161.59 434.10L161.59 440.90Z" fill="#800080"/>
<path d="M160.86 431.50L166.98 428.10L166.98 434.90Z" fill="#800080"/>
<path d="M166.25 427.00L172.37 423.60L172.37 430.40Z" fill="#800080"/>
<path d="M171.64 423.50L177.76 420.10L177.76 426.90Z" fill="#800080"/>
<path d="M177.03 422.20L183.15 418.80L183.15 425.60Z" fill="#800080"/>
<path d="M182.42 421.50L188.54 418.10L188.54 424.90Z" fill="#800080"/>
<path d="M187.81 421.50L193.93 418.10L193.93 424.90Z" fill="#800080"/>
<path d="M193.20 422.20L199.32 418.80L199.32 425.60Z" fill="#800080"/>
<path d="M198.59 422.90L204.71 419.50L204.71 426.30Z" fill="#800080"/>
<path d="M203.98 422.50L210.10 419.10L210.10 425.90Z" fill="#800080"/>
<path d="M209.37 415.50L215.49 412.10L215.49 418.90Z" fill="#800080"/>
<path d="M214.76 404.50L220.88 401.10L220.88 407.90Z" fill="#800080"/>
<path d="M220.15 393.70L226.27 390.30L226.27 397.10Z" fill="#800080"/>
<path d="M225.54 386.00L231.66 382.60L231.66 389.40Z" fill="#800080"/>
<path d="M230.93 379.00L237.05 375.60L237.05 382.40Z" fill="#800080"/>
<path d="M236.32 372.50L242.44 369.10L242.44 375.90Z" fill="#800080"/>
<path d="M241.71 366.40L247.83 363.00L247.83 369.80Z" fill="#800080"/>
<path d="M247.10 360.70L253.22 357.30L253.22 364.10Z" fill="#800080"/>
<path d="M252.49 355.00L258.61 351.60L258.61 358.40Z" fill="#800080"/>
<path d="M257.88 348.50L264.00 345.10L264.00 351.90Z" fill="#800080"/>
<path d="M263.27 341.50L269.39 338.10L269.39 344.90Z" fill="#800080"/>
<path d="M268.66 335.50L274.78 332.10L274.78 338.90Z" fill="#800080"/>
<path d="M274.05 330.50L280.17 327.10L280.17 333.90Z" fill="#800080"/>
<path d="M279.44 326.00L285.56 322.60L285.56 329.40Z" fill="#800080"/>
<path d="M284.83 322.00L290.95 318.60L290.95 325.40Z" fill="#800080"/>
<path d="M290.22 318.00L296.34 314.60L296.34 321.40Z" fill="#800080"/>
<path d="M295.61 312.50L301.73 309.10L301.73 315.90Z" fill="#800080"/>
<path d="M301.00 309.50L307.12 306.10L307.12 312.90Z" fill="#800080"/>
<path d="M306.39 307.00L312.51 303.60L312.51 310.40Z" fill="#800080"/>
<path d="M311.78 304.00L317.90 300.60L317.90 307.40Z" fill="#800080"/>
<path d="M317.17 301.50L323.29 298.10L323.29 304.90Z" fill="#800080"/>
<path d="M322.56 298.00L328.68 294.60L328.68 301.40Z" fill="#800080"/>
<path d="M327.95 294.00L334.07 290.60L334.07 297.40Z" fill="#800080"/>
<path d="M333.34 289.00L339.46 285.60L339.46 292.40Z" fill="#800080"/>
<path d="M338.73 283.00L344.85 279.60L344.85 286.40Z" fill="#800080"/>
</g>
<line x1="62.8" y1="46.35" x2="102.7" y2="46.35" stroke="#ff0000" stroke-width="1.7"/>
<rect x="80.56" y="44.01" width="4.68" height="4.68" fill="#ff0000"/>
<text x="107.2" y="52.65" font-size="17.6" font-family="Liberation Sans">PU00</text>
<line x1="62.8" y1="67.95" x2="102.7" y2="67.95" stroke="#ff8c1a" stroke-width="1.7"/>
<circle cx="82.90" cy="67.95" r="2.66" fill="#ff8c1a"/>
<text x="107.2" y="74.25" font-size="17.6" font-family="Liberation Sans">PU02</text>
<line x1="62.8" y1="89.55" x2="102.7" y2="89.55" stroke="#008000" stroke-width="1.7"/>
<path d="M82.90 86.34L85.96 91.85L79.84 91.85Z" fill="#008000"/>
<text x="107.2" y="95.85" font-size="17.6" font-family="Liberation Sans">PU04</text>
<line x1="62.8" y1="111.15" x2="102.7" y2="111.15" stroke="#00ecf0" stroke-width="1.7"/>
<path d="M82.90 114.36L85.96 108.86L79.84 108.86Z" fill="#00ecf0"/>
<text x="107.2" y="117.45" font-size="17.6" font-family="Liberation Sans">PU06</text>
<line x1="62.8" y1="132.75" x2="102.7" y2="132.75" stroke="#0000ff" stroke-width="1.7"/>
<path d="M82.90 129.60L86.05 132.75L82.90 135.90L79.75 132.75Z" fill="#0000ff"/>
<text x="107.2" y="139.05" font-size="17.6" font-family="Liberation Sans">PU08</text>
<line x1="62.8" y1="154.35" x2="102.7" y2="154.35" stroke="#800080" stroke-width="1.7"/>
<path d="M79.69 154.35L85.20 151.29L85.20 157.41Z" fill="#800080"/>
<text x="107.2" y="160.65" font-size="17.6" font-family="Liberation Sans">PU10</text>
<rect x="56.8" y="30.0" width="292.7" height="462.2" stroke="#000" fill="none" stroke-width="2"/>
<line x1="56.8" y1="261.7" x2="349.5" y2="261.7" stroke="#000" stroke-width="2"/>
<path d="M72.80 30.00L72.80 35.50M72.80 492.20L72.80 497.70M72.80 256.20L72.80 267.20M99.75 30.00L99.75 33.20M99.75 492.20L99.75 495.40M99.75 258.50L99.75 264.90M126.70 30.00L126.70 35.50M126.70 492.20L126.70 497.70M126.70 256.20L126.70 267.20M153.65 30.00L153.65 33.20M153.65 492.20L153.65 495.40M153.65 258.50L153.65 264.90M180.60 30.00L180.60 35.50M180.60 492.20L180.60 497.70M180.60 256.20L180.60 267.20M207.55 30.00L207.55 33.20M207.55 492.20L207.55 495.40M207.55 258.50L207.55 264.90M234.50 30.00L234.50 35.50M234.50 492.20L234.50 497.70M234.50 256.20L234.50 267.20M261.45 30.00L261.45 33.20M261.45 492.20L261.45 495.40M261.45 258.50L261.45 264.90M288.40 30.00L288.40 35.50M288.40 492.20L288.40 497.70M288.40 256.20L288.40 267.20M315.35 30.00L315.35 33.20M315.35 492.20L315.35 495.40M315.35 258.50L315.35 264.90M342.30 30.00L342.30 35.50M342.30 492.20L342.30 497.70M342.30 256.20L342.30 267.20M53.50 256.17L56.80 256.17M349.50 256.17L346.20 256.17M53.50 235.30L56.80 235.30M349.50 235.30L346.20 235.30M53.50 219.10L56.80 219.10M349.50 219.10L346.20 219.10M53.50 205.87L56.80 205.87M349.50 205.87L346.20 205.87M53.50 194.68L56.80 194.68M349.50 194.68L346.20 194.68M53.50 184.99L56.80 184.99M349.50 184.99L346.20 184.99M53.50 176.45L56.80 176.45M349.50 176.45L346.20 176.45M51.50 168.80L56.80 168.80M349.50 168.80L344.20 168.80M53.50 118.50L56.80 118.50M349.50 118.50L346.20 118.50M53.50 89.07L56.80 89.07M349.50 89.07L346.20 89.07M53.50 68.20L56.80 68.20M349.50 68.20L346.20 68.20M53.50 52.00L56.80 52.00M349.50 52.00L346.20 52.00M53.50 38.77L56.80 38.77M349.50 38.77L346.20 38.77M53.80 484.20L56.80 484.20M349.50 484.20L346.50 484.20M53.80 475.53L56.80 475.53M349.50 475.53L346.50 475.53M53.80 469.38L56.80 469.38M349.50 469.38L346.50 469.38M53.80 464.61L56.80 464.61M349.50 464.61L346.50 464.61M53.80 460.71L56.80 460.71M349.50 460.71L346.50 460.71M53.80 457.42L56.80 457.42M349.50 457.42L346.50 457.42M53.80 454.56L56.80 454.56M349.50 454.56L346.50 454.56M53.80 452.04L56.80 452.04M349.50 452.04L346.50 452.04M51.50 449.79L56.80 449.79M349.50 449.79L344.20 449.79M53.80 434.97L56.80 434.97M349.50 434.97L346.50 434.97M53.80 426.30L56.80 426.30M349.50 426.30L346.50 426.30M53.80 420.15L56.80 420.15M349.50 420.15L346.50 420.15M53.80 415.38L56.80 415.38M349.50 415.38L346.50 415.38M53.80 411.48L56.80 411.48M349.50 411.48L346.50 411.48M53.80 408.19L56.80 408.19M349.50 408.19L346.50 408.19M53.80 405.33L56.80 405.33M349.50 405.33L346.50 405.33M53.80 402.81L56.80 402.81M349.50 402.81L346.50 402.81M51.50 400.56L56.80 400.56M349.50 400.56L344.20 400.56M53.80 385.74L56.80 385.74M349.50 385.74L346.50 385.74M53.80 377.07L56.80 377.07M349.50 377.07L346.50 377.07M53.80 370.92L56.80 370.92M349.50 370.92L346.50 370.92M53.80 366.15L56.80 366.15M349.50 366.15L346.50 366.15M53.80 362.25L56.80 362.25M349.50 362.25L346.50 362.25M53.80 358.96L56.80 358.96M349.50 358.96L346.50 358.96M53.80 356.10L56.80 356.10M349.50 356.10L346.50 356.10M53.80 353.58L56.80 353.58M349.50 353.58L346.50 353.58M51.50 351.33L56.80 351.33M349.50 351.33L344.20 351.33M53.80 336.51L56.80 336.51M349.50 336.51L346.50 336.51M53.80 327.84L56.80 327.84M349.50 327.84L346.50 327.84M53.80 321.69L56.80 321.69M349.50 321.69L346.50 321.69M53.80 316.92L56.80 316.92M349.50 316.92L346.50 316.92M53.80 313.02L56.80 313.02M349.50 313.02L346.50 313.02M53.80 309.73L56.80 309.73M349.50 309.73L346.50 309.73M53.80 306.87L56.80 306.87M349.50 306.87L346.50 306.87M53.80 304.35L56.80 304.35M349.50 304.35L346.50 304.35M51.50 302.10L56.80 302.10M349.50 302.10L344.20 302.10M53.80 287.28L56.80 287.28M349.50 287.28L346.50 287.28M53.80 278.61L56.80 278.61M349.50 278.61L346.50 278.61M53.80 272.46L56.80 272.46M349.50 272.46L346.50 272.46M53.80 267.69L56.80 267.69M349.50 267.69L346.50 267.69M53.80 263.79L56.80 263.79M349.50 263.79L346.50 263.79" stroke="#000" stroke-width="1.6" fill="none"/>
<rect x="54.80" y="13.75" width="6.2" height="1.7" fill="#000"/>
<text x="76.55" y="20" font-size="17" text-anchor="middle" font-family="Liberation Sans">150</text>
<rect x="54.80" y="508.95" width="6.2" height="1.7" fill="#000"/>
<text x="76.55" y="515.2" font-size="17" text-anchor="middle" font-family="Liberation Sans">150</text>
<rect x="108.70" y="13.75" width="6.2" height="1.7" fill="#000"/>
<text x="130.45" y="20" font-size="17" text-anchor="middle" font-family="Liberation Sans">100</text>
<rect x="108.70" y="508.95" width="6.2" height="1.7" fill="#000"/>
<text x="130.45" y="515.2" font-size="17" text-anchor="middle" font-family="Liberation Sans">100</text>
<rect x="167.75" y="13.75" width="6.2" height="1.7" fill="#000"/>
<text x="184.35" y="20" font-size="17" text-anchor="middle" font-family="Liberation Sans">50</text>
<rect x="167.75" y="508.95" width="6.2" height="1.7" fill="#000"/>
<text x="184.35" y="515.2" font-size="17" text-anchor="middle" font-family="Liberation Sans">50</text>
<text x="234.50" y="20" font-size="17" text-anchor="middle" font-family="Liberation Sans">0</text>
<text x="234.50" y="515.2" font-size="17" text-anchor="middle" font-family="Liberation Sans">0</text>
<text x="288.40" y="20" font-size="17" text-anchor="middle" font-family="Liberation Sans">50</text>
<text x="288.40" y="515.2" font-size="17" text-anchor="middle" font-family="Liberation Sans">50</text>
<text x="342.30" y="20" font-size="17" text-anchor="middle" font-family="Liberation Sans">100</text>
<text x="342.30" y="515.2" font-size="17" text-anchor="middle" font-family="Liberation Sans">100</text>
<text x="51.5" y="262.17" font-size="17" text-anchor="end" font-family="Liberation Sans">3</text>
<text x="51.5" y="225.10" font-size="17" text-anchor="end" font-family="Liberation Sans">5</text>
<text x="47.3" y="173.80" font-size="17" text-anchor="end" font-family="Liberation Sans">10</text>
<text x="51.5" y="124.50" font-size="17" text-anchor="end" font-family="Liberation Sans">20</text>
<text x="51.5" y="58.00" font-size="17" text-anchor="end" font-family="Liberation Sans">50</text>
<text x="48.3" y="456.19" font-size="17" text-anchor="end" font-family="Liberation Sans">10<tspan font-size="10.8" dx="-0.6" dy="-8">-1</tspan></text>
<text x="48.3" y="406.96" font-size="17" text-anchor="end" font-family="Liberation Sans">10<tspan font-size="10.8" dx="-0.6" dy="-8">0</tspan></text>
<text x="48.3" y="357.73" font-size="17" text-anchor="end" font-family="Liberation Sans">10<tspan font-size="10.8" dx="-0.6" dy="-8">1</tspan></text>
<text x="48.3" y="308.50" font-size="17" text-anchor="end" font-family="Liberation Sans">10<tspan font-size="10.8" dx="-0.6" dy="-8">2</tspan></text>
<text transform="translate(19.8 134.3) rotate(-90)" font-size="17.4" letter-spacing="0.6" text-anchor="middle" font-family="Liberation Sans">permittivity <tspan font-style="italic">ε</tspan>'</text>
<text transform="translate(19.3 394.5) rotate(-90)" font-size="17.4" letter-spacing="0.25" text-anchor="middle" font-family="Liberation Sans">dielectric loss <tspan font-style="italic">ε</tspan>''</text>
<text x="197.3" y="540.7" font-size="17.4" text-anchor="middle" font-family="Liberation Sans">Temperature [°C]</text>
<rect x="260" y="225.5" width="96" height="20.4" fill="#fff"/>
<text x="308" y="198.6" font-size="17.6" text-anchor="middle" font-family="Liberation Sans">MWS</text>
<text x="309" y="221.2" font-size="17.6" text-anchor="middle" font-family="Liberation Sans">+</text>
<text x="308.3" y="241.3" font-size="17.6" text-anchor="middle" font-family="Liberation Sans">conductivity</text>
<rect x="220" y="221" width="23" height="113" fill="#fff"/>
<text transform="translate(237.6 277.2) rotate(-90)" font-size="17.6" text-anchor="middle" font-family="Liberation Sans">POSS melting</text>
<text transform="translate(181.9 182.2) scale(1.12 1)" font-size="19" text-anchor="middle" font-family="Liberation Serif">α</text>
<text transform="translate(176.7 410.7) scale(1.12 1)" font-size="19" text-anchor="middle" font-family="Liberation Serif">α</text>
<text x="97.5" y="454" font-size="19" text-anchor="middle" font-family="Liberation Serif">γ</text>
<text x="131.7" y="459.8" font-size="19" text-anchor="middle" font-family="Liberation Serif">β</text>
</svg></body></html>
